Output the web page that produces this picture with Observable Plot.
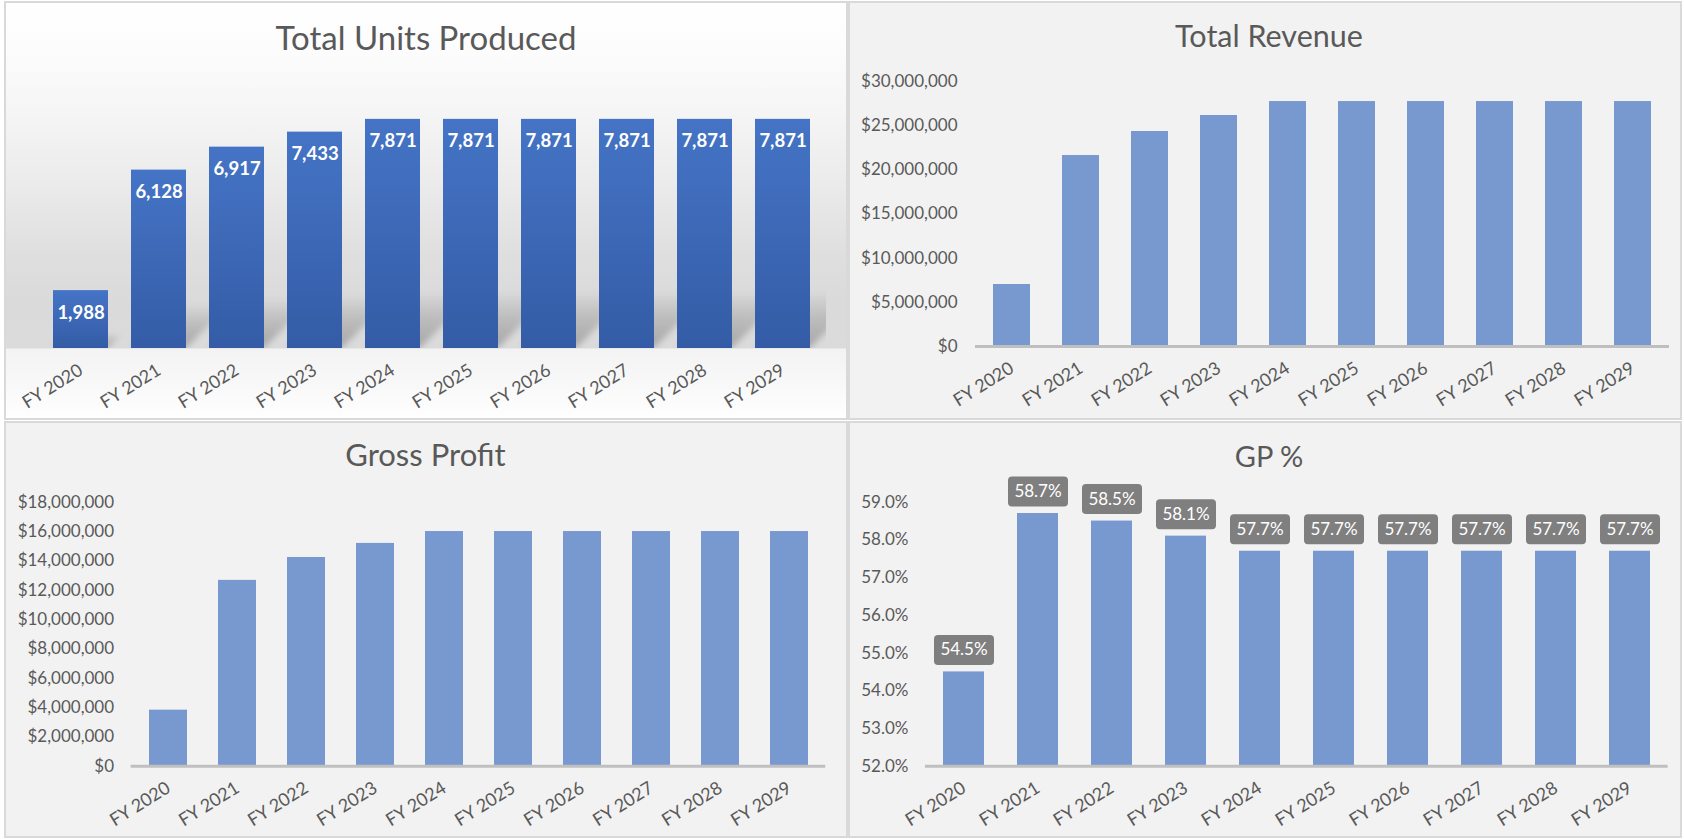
<!DOCTYPE html>
<html>
<head>
<meta charset="utf-8">
<script src="https://cdn.jsdelivr.net/npm/d3@7"></script>
<script src="https://cdn.jsdelivr.net/npm/@observablehq/plot@0.6"></script>
<style>
  html, body { margin: 0; padding: 0; background: #ffffff; }
  body { width: 1684px; height: 839px; position: relative; overflow: hidden; font-family: Lato, "Open Sans", sans-serif; }
  .panel { position: absolute; box-sizing: border-box; border: 2px solid #d9d9d9; background: #f2f2f2; }
  .title { position: absolute; text-align: center; color: #595959; line-height: 1; white-space: nowrap; font-weight: 400; }
  .chart { position: absolute; }
  .chart svg { overflow: visible; }
</style>
</head>
<body>
<script>
// Fiscal years shown on every chart
const years = ["FY 2020", "FY 2021", "FY 2022", "FY 2023", "FY 2024", "FY 2025", "FY 2026", "FY 2027", "FY 2028", "FY 2029"];

// Series
const unitsProduced = [1988, 6128, 6917, 7433, 7871, 7871, 7871, 7871, 7871, 7871];
const totalRevenue = [7020000, 21620000, 24340000, 26150000, 27730000, 27730000, 27730000, 27730000, 27730000, 27730000];
const grossProfit = [3820000, 12670000, 14230000, 15190000, 16000000, 16000000, 16000000, 16000000, 16000000, 16000000];
const gpPercent = [54.5, 58.7, 58.5, 58.1, 57.7, 57.7, 57.7, 57.7, 57.7, 57.7];

// Axis ticks
const revenueTicks = [0, 5000000, 10000000, 15000000, 20000000, 25000000, 30000000];
const profitTicks = [0, 2000000, 4000000, 6000000, 8000000, 10000000, 12000000, 14000000, 16000000, 18000000];
const gpTicks = [52, 53, 54, 55, 56, 57, 58, 59];

const rows = (values) => years.map((year, i) => ({year, value: values[i]}));

const GREY = "#595959";
const BAR = "#7898d0";
const FONT = "Lato, 'Open Sans', sans-serif";

function addBox(cls, left, top, width, height, background) {
  const div = document.createElement("div");
  div.className = cls;
  Object.assign(div.style, {left: left + "px", top: top + "px", width: width + "px", height: height + "px"});
  if (background) div.style.background = background;
  document.body.appendChild(div);
  return div;
}

function addTitle(text, centerX, baseline, size) {
  const div = document.createElement("div");
  div.className = "title";
  div.textContent = text;
  const w = 600;
  Object.assign(div.style, {
    left: (centerX - w / 2) + "px", width: w + "px",
    top: (baseline - 0.887 * size) + "px", fontSize: size + "px"
  });
  document.body.appendChild(div);
}

function placeChart(svg, left, top) {
  const holder = document.createElement("div");
  holder.className = "chart";
  holder.style.left = left + "px";
  holder.style.top = top + "px";
  holder.appendChild(svg);
  document.body.appendChild(holder);
}

const baseStyle = {background: "transparent", fontFamily: FONT, fontSize: "17px", color: GREY, overflow: "visible"};

const xLabels = (data, dy) => Plot.text(data, {
  x: "year", text: "year", frameAnchor: "bottom", dy, rotate: -32,
  textAnchor: "end", lineAnchor: "middle", fill: GREY, fontSize: 18
});

// ---------- Panel backgrounds ----------
addBox("panel", 4, 1, 844, 419,
  "linear-gradient(to bottom, #ffffff 0px, #fcfcfc 50px, #f5f5f5 110px, #ebebeb 180px, #dfdfdf 250px, #dadada 300px, #dbdbdb 345px, #f3f3f3 346px, #f8f8f8 380px, #ffffff 417px)");
addBox("panel", 848, 1, 834, 419);
addBox("panel", 4, 421, 844, 417);
addBox("panel", 848, 421, 834, 417);

// ---------- Total Units Produced ----------
{
  const data = rows(unitsProduced);
  const H = 419, MB = 72;
  const svg = Plot.plot({
    width: 844, height: H,
    marginTop: 85, marginBottom: MB, marginLeft: 33, marginRight: 22,
    style: baseStyle,
    x: {domain: years, paddingInner: 0.3, paddingOuter: 0.15, axis: null},
    y: {domain: [0, 9000], axis: null},
    marks: [
      Plot.barY(data, {x: "year", y: "value", fill: "url(#unitsShadowFill)", clip: true, className: "units-shadow"}),
      Plot.barY(data, {x: "year", y: "value", fill: "url(#unitsFill)"}),
      Plot.text(data, {x: "year", y: "value", text: d => d3.format(",")(d.value), dy: 22, fill: "#ffffff", fontWeight: "bold", fontSize: 18.5}),
      xLabels(data, 20)
    ]
  });
  const s = d3.select(svg);
  const defs = s.insert("defs", ":first-child");
  const grad = defs.append("linearGradient").attr("id", "unitsFill").attr("x1", 0).attr("y1", 0).attr("x2", 0).attr("y2", 1);
  grad.append("stop").attr("offset", "0%").attr("stop-color", "#4574c6");
  grad.append("stop").attr("offset", "100%").attr("stop-color", "#345ca6");
  // Shadow fades out away from the foot of each bar
  const sg = defs.append("linearGradient").attr("id", "unitsShadowFill").attr("x1", 0).attr("y1", 0).attr("x2", 0).attr("y2", 1);
  sg.append("stop").attr("offset", "0%").attr("stop-color", "#000").attr("stop-opacity", 0);
  sg.append("stop").attr("offset", "45%").attr("stop-color", "#000").attr("stop-opacity", 0.13);
  sg.append("stop").attr("offset", "100%").attr("stop-color", "#000").attr("stop-opacity", 0.24);
  defs.append("filter").attr("id", "unitsBlur").attr("x", "-20%").attr("y", "-60%").attr("width", "140%").attr("height", "220%")
    .append("feGaussianBlur").attr("stdDeviation", 3);
  // Cast shadows: each bar squashed and sheared back toward the upper right
  const y0 = H - MB, k = 1, sc = 0.25;
  let shadow = s.select("g.units-shadow");
  if (shadow.empty()) shadow = s.select("g[aria-label='bar']");
  shadow.attr("filter", "url(#unitsBlur)");
  shadow.selectAll("rect").attr("transform", `matrix(1,0,${-k * sc},${sc},${k * sc * y0},${(1 - sc) * y0})`);
  placeChart(svg, 4, 1);
  addTitle("Total Units Produced", 426, 50.7, 33);
}

// ---------- Total Revenue ----------
{
  const data = rows(totalRevenue);
  const svg = Plot.plot({
    width: 834, height: 419,
    marginTop: 80, marginBottom: 74, marginLeft: 127, marginRight: 13,
    style: baseStyle,
    x: {domain: years, paddingInner: 0.46, paddingOuter: 0.23, axis: null},
    y: {domain: [0, 30000000]},
    marks: [
      Plot.axisY({ticks: revenueTicks, tickFormat: d3.format("$,.0f"), tickSize: 0, tickPadding: 18, label: null, fill: GREY}),
      Plot.barY(data, {x: "year", y: "value", fill: BAR}),
      Plot.ruleY([0], {stroke: "#bfbfbf", strokeWidth: 3}),
      xLabels(data, 20)
    ]
  });
  placeChart(svg, 848, 1);
  addTitle("Total Revenue", 1269, 46.7, 30.5);
}

// ---------- Gross Profit ----------
{
  const data = rows(grossProfit);
  const svg = Plot.plot({
    width: 844, height: 417,
    marginTop: 80.7, marginBottom: 72.3, marginLeft: 126.6, marginRight: 22.8,
    style: baseStyle,
    x: {domain: years, paddingInner: 0.455, paddingOuter: 0.2275, axis: null},
    y: {domain: [0, 18000000]},
    marks: [
      Plot.axisY({ticks: profitTicks, tickFormat: d3.format("$,.0f"), tickSize: 0, tickPadding: 17, label: null, fill: GREY}),
      Plot.barY(data, {x: "year", y: "value", fill: BAR}),
      Plot.ruleY([0], {stroke: "#bfbfbf", strokeWidth: 3}),
      xLabels(data, 20)
    ]
  });
  placeChart(svg, 4, 421);
  addTitle("Gross Profit", 425.5, 466.7, 31);
}

// ---------- GP % ----------
{
  const data = rows(gpPercent);
  // Rounded callout box behind each value label
  const calloutBox = {
    draw(ctx) {
      const w = 30, h = 15, r = 4;
      ctx.moveTo(-w + r, -h);
      ctx.lineTo(w - r, -h);
      ctx.arcTo(w, -h, w, -h + r, r);
      ctx.lineTo(w, h - r);
      ctx.arcTo(w, h, w - r, h, r);
      ctx.lineTo(-w + r, h);
      ctx.arcTo(-w, h, -w, h - r, r);
      ctx.lineTo(-w, -h + r);
      ctx.arcTo(-w, -h, -w + r, -h, r);
      ctx.closePath();
    }
  };
  const svg = Plot.plot({
    width: 834, height: 417,
    marginTop: 80.7, marginBottom: 72.3, marginLeft: 76.9, marginRight: 14.4,
    style: baseStyle,
    x: {domain: years, paddingInner: 0.44, paddingOuter: 0.22, axis: null},
    y: {domain: [52, 59]},
    marks: [
      Plot.axisY({ticks: gpTicks, tickFormat: d => d.toFixed(1) + "%", tickSize: 0, tickPadding: 17, label: null, fill: GREY}),
      Plot.barY(data, {x: "year", y1: 52, y2: "value", fill: BAR}),
      Plot.ruleY([52], {stroke: "#bfbfbf", strokeWidth: 3}),
      Plot.dot(data, {x: "year", y: "value", symbol: calloutBox, r: 5, fill: "#7f7f7f", stroke: "none", dy: -22}),
      Plot.text(data, {x: "year", y: "value", text: d => d.value.toFixed(1) + "%", dy: -22, fill: "#ffffff", fontSize: 17}),
      xLabels(data, 20)
    ]
  });
  placeChart(svg, 848, 421);
  addTitle("GP %", 1269, 466.7, 29);
}
</script>
</body>
</html>
